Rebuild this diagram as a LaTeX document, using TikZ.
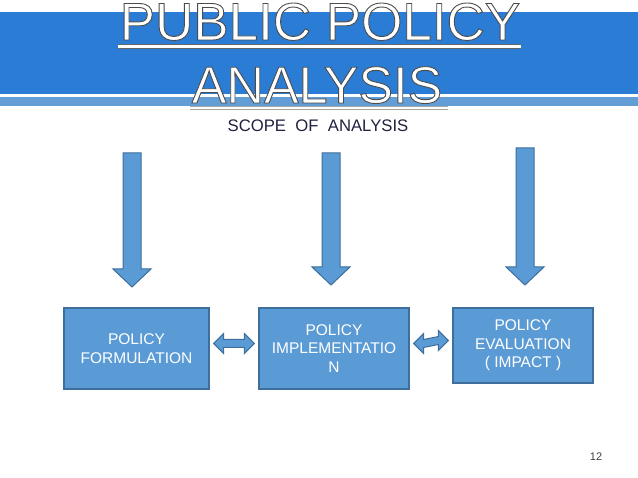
\documentclass[tikz,border=0pt]{standalone}
\usepackage{fontspec}
\setmainfont{Liberation Sans}
\usetikzlibrary{positioning,calc}
\definecolor{bandblue}{RGB}{42,124,212}
\definecolor{stripblue}{RGB}{98,157,213}
\definecolor{boxblue}{RGB}{91,155,213}
\definecolor{boxedge}{RGB}{62,110,155}
\definecolor{scopenavy}{RGB}{32,32,64}
% white letters with a thin grey rim (fill + stroke render mode)
\newcommand{\rimtext}[1]{\special{pdf:code q 2 Tr 0.9 w 0.3 0.3 0.3 RG}#1\special{pdf:code Q}}

\begin{document}
\begin{tikzpicture}[x=1pt, y=-1pt,
    box/.style={draw=boxedge, line width=1.2pt, fill=boxblue, text=white,
        align=center, inner sep=0pt, font=\fontsize{15.5}{18.5}\selectfont},
    blockarrow/.style={draw=boxedge, line width=1pt, fill=boxblue, line join=miter}]
    \useasboundingbox (0,0) rectangle (638,478);

    % Header bands
    \fill[bandblue] (0,12) rectangle (638,94);
    \fill[stripblue] (0,97) rectangle (638,106);

    % Title
    \node[anchor=base, text=white, font=\fontsize{53}{60}\selectfont] (title1) at (320,40) {\rimtext{PUBLIC POLICY}};
    \draw[gray!80!black, line width=5pt] (118,47) -- (521,47);
    \draw[white, line width=3pt] (118,47) -- (521,47);
    \node[anchor=base, text=white, font=\fontsize{52}{60}\selectfont] (title2) at (317,103) {\rimtext{ANALYSIS}};
    \draw[gray!70, line width=3.5pt] (190,108) -- (448,108);
    \draw[white, line width=2pt] (190,108) -- (448,108);
    \node[anchor=base, text=scopenavy, font=\fontsize{16.7}{20}\selectfont] (scope) at (318,132) {SCOPE\ \ OF\ \ ANALYSIS};

    % Boxes
    \node[box, minimum width=145, minimum height=81] (formulation) at (136.5,348.5) {POLICY\\FORMULATION};
    \node[box, minimum width=150, minimum height=81] (implementation) at (334,348.5) {POLICY\\IMPLEMENTATIO\\N};
    \node[box, minimum width=140, minimum height=75] (evaluation) at (523,345.5) {POLICY\\EVALUATION\\( IMPACT )};

    % Down arrows: centre x, top, head start, tip
    \foreach \cx/\top/\hd/\tip in {132/153/269/287, 331/153/267/285, 525/148/267/285}
        \draw[blockarrow] (\cx-9,\top) -- (\cx+9,\top) -- (\cx+9,\hd) -- (\cx+19,\hd)
            -- (\cx,\tip) -- (\cx-19,\hd) -- (\cx-9,\hd) -- cycle;

    % Double arrows between boxes
    \foreach \a/\b in {formulation/implementation, implementation/evaluation} {
        \path ($(\a.east)+(4,-5)$) coordinate (l) ($(\b.west)+(-4,-5)$) coordinate (r);
        \draw[blockarrow] (l) -- ($(l)+(10,-10)$) -- ($(l)+(10,-4)$) -- ($(r)+(-10,-4)$)
            -- ($(r)+(-10,-10)$) -- (r) -- ($(r)+(-10,10)$) -- ($(r)+(-10,4)$)
            -- ($(l)+(10,4)$) -- ($(l)+(10,10)$) -- cycle;
    }

    % Page number
    \node[text=darkgray, font=\fontsize{11}{13}\selectfont] (pagenum) at (596,457) {12};
\end{tikzpicture}
\end{document}
